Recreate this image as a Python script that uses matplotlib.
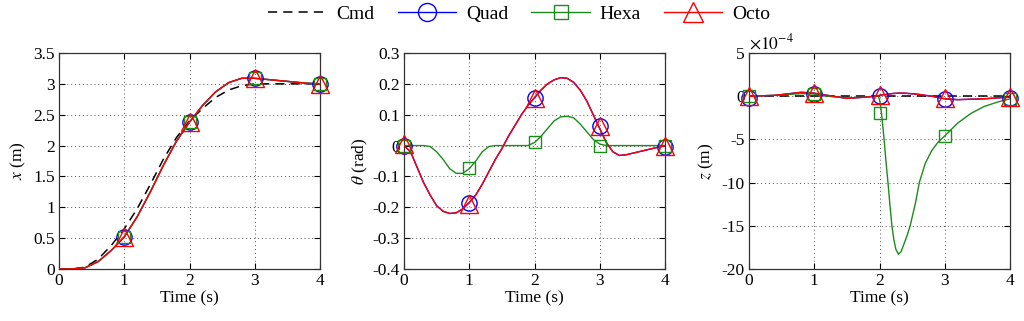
import matplotlib
matplotlib.use('Agg')
import matplotlib.pyplot as plt
from matplotlib.lines import Line2D

plt.rcParams['font.family'] = ['Liberation Serif', 'DejaVu Serif']
plt.rcParams['mathtext.fontset'] = 'stix'
plt.rcParams['axes.unicode_minus'] = False

# time samples
t = [0.0, 0.2, 0.4, 0.6, 0.8, 1.0, 1.2, 1.4, 1.6, 1.8, 2.0, 2.2, 2.4, 2.6, 2.8,
     3.0, 3.2, 3.4, 3.6, 3.8, 4.0]

# x position (m)
x_cmd = [0.0, 0.0, 0.03, 0.16, 0.38, 0.65, 0.98, 1.37, 1.78, 2.13, 2.40, 2.60,
         2.78, 2.90, 2.97, 3.00, 3.00, 3.00, 3.00, 3.00, 3.00]
x_quad = [0.0, 0.0, 0.02, 0.12, 0.30, 0.52, 0.85, 1.25, 1.68, 2.07, 2.38, 2.65,
          2.87, 3.02, 3.09, 3.09, 3.07, 3.05, 3.03, 3.01, 3.00]
x_hexa = [0.0, 0.0, 0.02, 0.12, 0.30, 0.52, 0.85, 1.25, 1.68, 2.07, 2.38, 2.65,
          2.87, 3.02, 3.09, 3.09, 3.07, 3.05, 3.03, 3.01, 3.00]
x_octo = [0.0, 0.0, 0.02, 0.12, 0.30, 0.52, 0.85, 1.25, 1.68, 2.07, 2.38, 2.65,
          2.87, 3.02, 3.09, 3.09, 3.07, 3.05, 3.03, 3.01, 3.00]

# theta (rad), finer samples
t_th = [0.0, 0.1, 0.2, 0.3, 0.4, 0.5, 0.6, 0.7, 0.8, 0.9, 1.0, 1.1, 1.2, 1.3,
        1.4, 1.5, 1.6, 1.7, 1.8, 1.9, 2.0, 2.1, 2.2, 2.3, 2.4, 2.5, 2.6, 2.7,
        2.8, 2.9, 3.0, 3.1, 3.2, 3.3, 3.4, 3.5, 3.6, 3.7, 3.8, 3.9, 4.0]
th_quad = [0.0, -0.02, -0.07, -0.12, -0.16, -0.195, -0.213, -0.22, -0.218,
           -0.205, -0.185, -0.16, -0.125, -0.085, -0.045, -0.01, 0.03, 0.065,
           0.10, 0.13, 0.155, 0.18, 0.20, 0.213, 0.22, 0.218, 0.205, 0.18,
           0.145, 0.10, 0.055, 0.01, -0.02, -0.032, -0.03, -0.025, -0.02,
           -0.015, -0.01, -0.005, 0.0]
th_hexa = [0.0, 0.0, 0.0, 0.0, -0.003, -0.02, -0.045, -0.075, -0.09, -0.09,
           -0.075, -0.05, -0.02, -0.003, 0.0, 0.0, 0.0, 0.0, 0.0, 0.0, 0.01,
           0.03, 0.055, 0.08, 0.093, 0.095, 0.09, 0.07, 0.045, 0.02, 0.005,
           0.0, 0.0, 0.0, 0.0, 0.0, 0.0, 0.0, 0.0, 0.0, 0.0]
th_octo = th_quad

# z position (x 1e-4 m)
t_z = [0.0, 0.4, 0.8, 1.0, 1.2, 1.5, 1.8, 1.98, 2.0, 2.02, 2.04, 2.07, 2.1,
       2.13, 2.16, 2.19, 2.22, 2.25, 2.29, 2.33, 2.37, 2.42, 2.47, 2.55, 2.61,
       2.7, 2.8, 2.9, 3.0, 3.2, 3.4, 3.6, 3.8, 4.0]
z_cmd = [0.0] * len(t_z)
z_quad = [0.0, 0.1, 0.45, 0.35, 0.1, -0.25, -0.1, 0.05, 0.1, 0.12, 0.15,
          0.18, 0.2, 0.25, 0.27, 0.3, 0.32, 0.33, 0.35, 0.35, 0.35, 0.33, 0.3,
          0.25, 0.2, 0.1, 0.0, -0.15, -0.3, -0.4, -0.35, -0.3, -0.2, -0.1]
z_hexa = [0.0, 0.1, 0.3, 0.25, 0.0, -0.2, -0.1, 0.0, -0.4, -1.3, -2.6, -5.0,
          -7.6, -10.0, -12.6, -15.0, -16.6, -17.7, -18.3, -18.0, -17.2, -16.2,
          -15.0, -12.4, -10.0, -7.8, -6.3, -5.3, -4.6, -3.1, -2.0, -1.2, -0.7,
          -0.3]
z_octo = z_quad

# marker values at t = 0..4
tm = [0, 1, 2, 3, 4]
xm_quad = [0.0, 0.52, 2.38, 3.09, 3.0]
xm_hexa = [0.0, 0.52, 2.38, 3.09, 3.0]
xm_octo = [0.0, 0.52, 2.38, 3.09, 3.0]
thm_quad = [0.0, -0.185, 0.155, 0.065, -0.005]
thm_hexa = [0.0, -0.073, 0.012, 0.0, 0.0]
thm_octo = [0.005, -0.19, 0.155, 0.065, 0.0]
zm_quad = [-0.2, 0.2, 0.0, -0.3, -0.2]
zm_hexa = [0.0, 0.3, -2.0, -4.6, -0.3]
zm_octo = [0.0, 0.35, 0.1, -0.2, -0.1]

c_quad = 'blue'
c_hexa = '#1a8c1a'
c_octo = 'red'

fig = plt.figure(figsize=(10.24, 3.21), dpi=100)
w = 261 / 1024
h = 216 / 321
b = 52 / 321
ax1 = fig.add_axes([59 / 1024, b, w, h])
ax2 = fig.add_axes([404 / 1024, b, w, h])
ax3 = fig.add_axes([749 / 1024, b, w, h])

def draw(ax, tt, cmd, q, hx, o, qm, hm, om, skip_first=False):
    if cmd is not None:
        ax.plot(tt, cmd, '--', color='black', lw=1.1, dashes=(6, 4), zorder=2)
    ax.plot(tt, q, color=c_quad, lw=1.0, zorder=3)
    ax.plot(tt, hx, color=c_hexa, lw=1.0, zorder=3)
    ax.plot(tt, o, color=c_octo, lw=1.0, zorder=4)
    s = 1 if skip_first else 0
    ax.plot(tm[s:], qm[s:], 'o', mfc='none', mec=c_quad, ms=11, mew=1.0,
            zorder=5, clip_on=False)
    ax.plot(tm[s:], hm[s:], 's', mfc='none', mec=c_hexa, ms=9, mew=1.0,
            zorder=5, clip_on=False)
    ax.plot(tm[s:], om[s:], '^', mfc='none', mec=c_octo, ms=13, mew=1.0,
            zorder=6, clip_on=False)
    ax.set_xlim(0, 4)
    ax.set_xticks([0, 1, 2, 3, 4])
    ax.grid(True, linestyle=(0, (1, 3)), color='#555555', lw=0.7)
    ax.tick_params(direction='in', top=True, right=True, labelsize=12.5,
                   length=4, pad=3)
    ax.set_xlabel('Time (s)', fontsize=12.5, labelpad=1)
    for sp in ax.spines.values():
        sp.set_linewidth(0.9)
        sp.set_color('#333333')

draw(ax1, t, x_cmd, x_quad, x_hexa, x_octo, xm_quad, xm_hexa, xm_octo, skip_first=True)
ax1.set_ylim(0, 3.5)
ax1.set_yticks([0, 0.5, 1, 1.5, 2, 2.5, 3, 3.5])
ax1.set_yticklabels(['0', '0.5', '1', '1.5', '2', '2.5', '3', '3.5'])
ax1.set_ylabel('$x$ (m)', fontsize=12.5, labelpad=4)

draw(ax2, t_th, None, th_quad, th_hexa, th_octo, thm_quad, thm_hexa, thm_octo)
ax2.set_ylim(-0.4, 0.3)
ax2.set_yticks([-0.4, -0.3, -0.2, -0.1, 0, 0.1, 0.2, 0.3])
ax2.set_yticklabels(['-0.4', '-0.3', '-0.2', '-0.1', '0', '0.1', '0.2', '0.3'])
ax2.set_ylabel(r'$\theta$ (rad)', fontsize=12.5, labelpad=2)

draw(ax3, t_z, z_cmd, z_quad, z_hexa, z_octo, zm_quad, zm_hexa, zm_octo)
ax3.set_ylim(-20, 5)
ax3.set_yticks([-20, -15, -10, -5, 0, 5])
ax3.set_ylabel('$z$ (m)', fontsize=12.5, labelpad=4)
ax3.text(0.0, 1.0, r'$\times10^{-4}$', transform=ax3.transAxes, fontsize=12.5,
         ha='left', va='bottom')

handles = [
    Line2D([], [], color='black', ls='--', dashes=(6, 4), lw=1.1),
    Line2D([], [], color=c_quad, marker='o', mfc='none', ms=13, lw=1.0),
    Line2D([], [], color=c_hexa, marker='s', mfc='none', ms=10, lw=1.0),
    Line2D([], [], color=c_octo, marker='^', mfc='none', ms=15, lw=1.0),
]
fig.legend(handles, ['Cmd', 'Quad', 'Hexa', 'Octo'], loc='center',
           bbox_to_anchor=(0.507, 0.955), ncol=4, frameon=False, fontsize=14,
           handlelength=3.0, columnspacing=1.2, handletextpad=0.5)

fig.savefig('out.png', dpi=100)
